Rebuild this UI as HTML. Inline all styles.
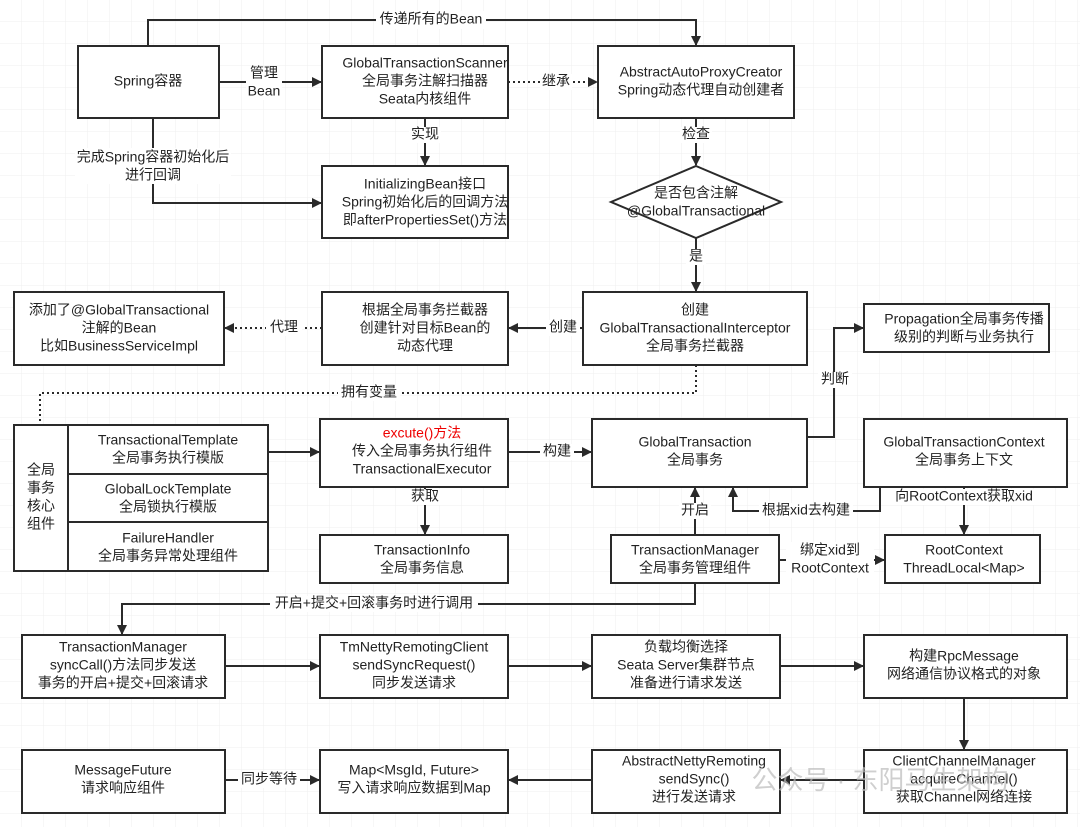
<!DOCTYPE html>
<html><head><meta charset="utf-8"><style>
html,body{margin:0;padding:0;background:#fff}
svg{display:block}
text{font-family:"Liberation Sans","Noto Sans CJK SC",sans-serif;font-size:14px;fill:#222;text-anchor:middle;dominant-baseline:middle}
.b{fill:#fff;stroke:#2a2a2a;stroke-width:2}
.l{fill:none;stroke:#2a2a2a;stroke-width:2}
.d{fill:none;stroke:#2a2a2a;stroke-width:2;stroke-dasharray:2 3}
.lb{fill:#fff}
</style></head><body>
<svg width="1080" height="827" viewBox="0 0 1080 827" xmlns="http://www.w3.org/2000/svg">
<defs>
<pattern id="g" width="22" height="22" patternUnits="userSpaceOnUse"><path d="M22 0V22H0" fill="none" stroke="#efefef" stroke-width="1"/></pattern>
<marker id="a" markerWidth="10" markerHeight="10" refX="9" refY="5" orient="auto" markerUnits="userSpaceOnUse"><path d="M0,0 L10,5 L0,10 Z" fill="#2a2a2a"/></marker>
</defs>
<rect width="1080" height="827" fill="url(#g)"/>

<!-- connectors -->
<path class="l" d="M148 46V20H696V45" marker-end="url(#a)"/>
<rect class="lb" x="376" y="11" width="110" height="18"/><text x="431" y="20">传递所有的Bean</text>
<path class="l" d="M219 82H321" marker-end="url(#a)"/>
<rect class="lb" x="246" y="66" width="36" height="34"/><text x="264" y="74">管理</text><text x="264" y="92">Bean</text>
<path class="d" d="M508 82H597" marker-end="url(#a)"/>
<rect class="lb" x="540" y="74" width="32" height="16"/><text x="556" y="82">继承</text>
<path class="l" d="M425 118V165" marker-end="url(#a)"/>
<rect class="lb" x="409" y="127" width="32" height="16"/><text x="425" y="135">实现</text>
<path class="l" d="M153 118V203H321" marker-end="url(#a)"/>
<rect class="lb" x="75" y="148" width="156" height="36"/><text x="153" y="158">完成Spring容器初始化后</text><text x="153" y="176">进行回调</text>
<path class="l" d="M696 118V165" marker-end="url(#a)"/>
<rect class="lb" x="680" y="127" width="32" height="16"/><text x="696" y="135">检查</text>
<path class="l" d="M696 238V291" marker-end="url(#a)"/>
<rect class="lb" x="686" y="249" width="20" height="16"/><text x="696" y="257">是</text>
<path class="l" d="M583 328H509" marker-end="url(#a)"/>
<rect class="lb" x="546" y="320" width="34" height="16"/><text x="563" y="328">创建</text>
<path class="d" d="M322 328H225" marker-end="url(#a)"/>
<rect class="lb" x="266" y="320" width="36" height="16"/><text x="284" y="328">代理</text>
<path class="d" d="M696 365V393H40V425"/>
<rect class="lb" x="338" y="385" width="62" height="16"/><text x="369" y="393">拥有变量</text>
<path class="l" d="M268 452H319" marker-end="url(#a)"/>
<path class="l" d="M508 452H591" marker-end="url(#a)"/>
<rect class="lb" x="540" y="444" width="34" height="16"/><text x="557" y="452">构建</text>
<path class="l" d="M807 437H834V328H863" marker-end="url(#a)"/>
<rect class="lb" x="818" y="372" width="34" height="16"/><text x="835" y="380">判断</text>
<path class="l" d="M425 487V534" marker-end="url(#a)"/>
<rect class="lb" x="409" y="489" width="32" height="16"/><text x="425" y="497">获取</text>
<path class="l" d="M695 535V488" marker-end="url(#a)"/>
<rect class="lb" x="679" y="503" width="32" height="16"/><text x="695" y="511">开启</text>
<path class="l" d="M880 487V511H733V488" marker-end="url(#a)"/>
<rect class="lb" x="759" y="503" width="94" height="16"/><text x="806" y="511">根据xid去构建</text>
<path class="l" d="M964 487V534" marker-end="url(#a)"/>
<rect class="lb" x="890" y="489" width="148" height="16"/><text x="964" y="497">向RootContext获取xid</text>
<path class="l" d="M779 560H884" marker-end="url(#a)"/>
<rect class="lb" x="786" y="542" width="88" height="36"/><text x="830" y="551">绑定xid到</text><text x="830" y="569">RootContext</text>
<path class="l" d="M695 583V604H122V634" marker-end="url(#a)"/>
<rect class="lb" x="270" y="596" width="208" height="16"/><text x="374" y="604">开启+提交+回滚事务时进行调用</text>
<path class="l" d="M225 666H319" marker-end="url(#a)"/>
<path class="l" d="M508 666H591" marker-end="url(#a)"/>
<path class="l" d="M780 666H863" marker-end="url(#a)"/>
<path class="l" d="M964 698V749" marker-end="url(#a)"/>
<path class="l" d="M864 780H781" marker-end="url(#a)"/>
<path class="l" d="M592 780H509" marker-end="url(#a)"/>
<path class="l" d="M225 780H319" marker-end="url(#a)"/>
<rect class="lb" x="238" y="772" width="62" height="16"/><text x="269" y="780">同步等待</text>

<!-- boxes -->
<rect class="b" x="78" y="46" width="141" height="72"/><text x="148" y="82">Spring容器</text>
<rect class="b" x="322" y="46" width="186" height="72"/><text x="425" y="64">GlobalTransactionScanner</text><text x="425" y="82">全局事务注解扫描器</text><text x="425" y="100">Seata内核组件</text>
<rect class="b" x="598" y="46" width="196" height="72"/><text x="701" y="73">AbstractAutoProxyCreator</text><text x="701" y="91">Spring动态代理自动创建者</text>
<rect class="b" x="322" y="166" width="186" height="72"/><text x="425" y="185">InitializingBean接口</text><text x="425" y="203">Spring初始化后的回调方法</text><text x="425" y="221">即afterPropertiesSet()方法</text>
<path class="b" d="M696 166L781 202L696 238L611 202Z"/><text x="696" y="194">是否包含注解</text><text x="696" y="212">@GlobalTransactional</text>
<rect class="b" x="14" y="292" width="210" height="73"/><text x="119" y="311">添加了@GlobalTransactional</text><text x="119" y="329">注解的Bean</text><text x="119" y="347">比如BusinessServiceImpl</text>
<rect class="b" x="322" y="292" width="186" height="73"/><text x="425" y="311">根据全局事务拦截器</text><text x="425" y="329">创建针对目标Bean的</text><text x="425" y="347">动态代理</text>
<rect class="b" x="583" y="292" width="224" height="73"/><text x="695" y="311">创建</text><text x="695" y="329">GlobalTransactionalInterceptor</text><text x="695" y="347">全局事务拦截器</text>
<rect class="b" x="864" y="304" width="185" height="48"/><text x="964" y="320">Propagation全局事务传播</text><text x="964" y="338">级别的判断与业务执行</text>

<rect class="b" x="14" y="425" width="254" height="146"/>
<path class="l" d="M68 425V571M68 474H268M68 522H268"/>
<text x="41" y="471">全局</text><text x="41" y="489">事务</text><text x="41" y="507">核心</text><text x="41" y="525">组件</text>
<text x="168" y="441">TransactionalTemplate</text><text x="168" y="459">全局事务执行模版</text>
<text x="168" y="490">GlobalLockTemplate</text><text x="168" y="508">全局锁执行模版</text>
<text x="168" y="539">FailureHandler</text><text x="168" y="557">全局事务异常处理组件</text>

<rect class="b" x="320" y="419" width="188" height="68"/><text x="422" y="434" style="fill:#e00">excute()方法</text><text x="422" y="452">传入全局事务执行组件</text><text x="422" y="470">TransactionalExecutor</text>
<rect class="b" x="592" y="419" width="215" height="68"/><text x="695" y="443">GlobalTransaction</text><text x="695" y="461">全局事务</text>
<rect class="b" x="864" y="419" width="203" height="68"/><text x="964" y="443">GlobalTransactionContext</text><text x="964" y="461">全局事务上下文</text>
<rect class="b" x="320" y="535" width="188" height="48"/><text x="422" y="551">TransactionInfo</text><text x="422" y="569">全局事务信息</text>
<rect class="b" x="611" y="535" width="168" height="48"/><text x="695" y="551">TransactionManager</text><text x="695" y="569">全局事务管理组件</text>
<rect class="b" x="885" y="535" width="155" height="48"/><text x="964" y="551">RootContext</text><text x="964" y="569">ThreadLocal&lt;Map&gt;</text>

<rect class="b" x="22" y="635" width="203" height="63"/><text x="123" y="648">TransactionManager</text><text x="123" y="666">syncCall()方法同步发送</text><text x="123" y="684">事务的开启+提交+回滚请求</text>
<rect class="b" x="320" y="635" width="188" height="63"/><text x="414" y="648">TmNettyRemotingClient</text><text x="414" y="666">sendSyncRequest()</text><text x="414" y="684">同步发送请求</text>
<rect class="b" x="592" y="635" width="188" height="63"/><text x="686" y="648">负载均衡选择</text><text x="686" y="666">Seata Server集群节点</text><text x="686" y="684">准备进行请求发送</text>
<rect class="b" x="864" y="635" width="203" height="63"/><text x="964" y="657">构建RpcMessage</text><text x="964" y="675">网络通信协议格式的对象</text>

<rect class="b" x="22" y="750" width="203" height="63"/><text x="123" y="771">MessageFuture</text><text x="123" y="789">请求响应组件</text>
<rect class="b" x="320" y="750" width="188" height="63"/><text x="414" y="771">Map&lt;MsgId, Future&gt;</text><text x="414" y="789">写入请求响应数据到Map</text>
<rect class="b" x="592" y="750" width="188" height="63"/><text x="694" y="762">AbstractNettyRemoting</text><text x="694" y="780">sendSync()</text><text x="694" y="798">进行发送请求</text>
<rect class="b" x="864" y="750" width="203" height="63"/><text x="964" y="762">ClientChannelManager</text><text x="964" y="780">acquireChannel()</text><text x="964" y="798">获取Channel网络连接</text>
<text x="880" y="782" style="font-size:26px;fill:#bbb;fill-opacity:0.7">公众号 · 东阳马生架构</text>
</svg>
</body></html>
